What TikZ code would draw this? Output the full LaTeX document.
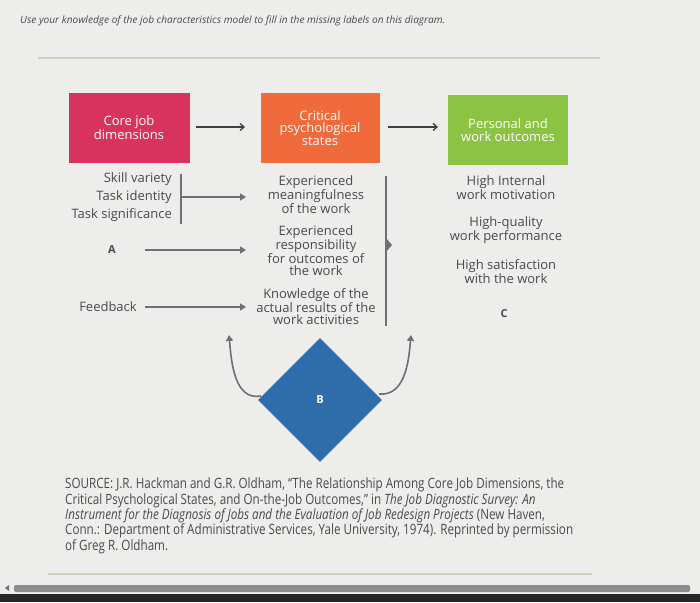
\documentclass[tikz,border=0pt]{standalone}
\usepackage{fontspec}
\setmainfont{Open Sans}
\newfontfamily\condf[FakeStretch=0.82]{Open Sans}
\usetikzlibrary{shapes.geometric,arrows.meta}
\definecolor{bg}{HTML}{EDEDEC}
\definecolor{txt}{HTML}{4A4A4A}
\definecolor{crim}{HTML}{D8335E}
\definecolor{orng}{HTML}{F06A3C}
\definecolor{grn}{HTML}{8CC342}
\definecolor{dblue}{HTML}{2F6DAA}
\definecolor{tan}{HTML}{D6CFB8}
\definecolor{arr}{HTML}{707070}
\tikzset{
 hbox/.style={minimum width=121pt,minimum height=70pt,text=white,align=center,font=\fontsize{13}{12.5}\selectfont,inner sep=0pt},
 lab/.style={text=txt,align=center,font=\fontsize{13}{12}\selectfont,inner sep=0pt},
 conn/.style={draw=arr,line width=1.6pt,-{Triangle[length=6pt,width=7pt]}},
 hconn/.style={draw=black!75,line width=1.3pt,-{Straight Barb[length=4pt,width=7pt]}},
}
\begin{document}
\begin{tikzpicture}[x=1pt,y=-1pt]
\fill[bg] (0,0) rectangle (700,602);
\useasboundingbox (0,0) rectangle (700,602);
\node[anchor=west,text=txt,font=\itshape\fontsize{10.1}{10}\selectfont,inner sep=0pt] (instr) at (20,21) {Use your knowledge of the job characteristics model to fill in the missing labels on this diagram.};
\draw[tan,line width=1.5pt] (38,58) coordinate (l1a) -- (600,58) coordinate (l1b);
\node[hbox,fill=crim] (core) at (129,128) {Core job\\dimensions};
\node[hbox,fill=orng,minimum width=119pt] (crit) at (320,128) {Critical\\psychological\\states};
\node[hbox,fill=grn,minimum width=120pt] (pers) at (508,130) {Personal and\\work outcomes};
\draw[hconn] (196,127) coordinate (a1) -- (245,127) coordinate (a2);
\draw[hconn] (388,127) coordinate (a3) -- (438,127) coordinate (a4);
\node[lab,anchor=east,align=right,font=\fontsize{13}{18}\selectfont] (skills) at (172,197) {Skill variety\\Task identity\\Task significance};
\node[lab] (mean) at (316,195) {Experienced\\meaningfulness\\of the work};
\node[lab] (resp) at (316,251) {Experienced\\responsibility\\for outcomes of\\the work};
\node[lab] (know) at (316,307) {Knowledge of the\\actual results of the\\work activities};
\node[lab,font=\bfseries\fontsize{11}{11}\selectfont] (A) at (112,250) {A};
\node[lab] (fb) at (108,307) {Feedback};
\draw[arr,line width=1.6pt] (181,174) coordinate (b1) -- (181,224) coordinate (b2);
\draw[conn] (181,197) coordinate (b3) -- (246,197) coordinate (b4);
\draw[conn] (145,250) coordinate (c1) -- (246,250) coordinate (c3);
\draw[conn] (145,307) coordinate (c2) -- (246,307) coordinate (c4);
\draw[arr,line width=1.6pt] (386,176) coordinate (v1) -- (386,326) coordinate (v2);
\fill[arr] (386,238) -- (392,245) -- (386,252) -- cycle;
\node[lab] (mot) at (506,188) {High Internal\\work motivation};
\node[lab] (perf) at (506,230) {High-quality\\work performance};
\node[lab] (sat) at (506,272) {High satisfaction\\with the work};
\node[lab,font=\bfseries\fontsize{11}{11}\selectfont] (C) at (504,314) {C};
\node[diamond,fill=dblue,minimum width=124pt,minimum height=124pt,inner sep=0pt,text=white,font=\bfseries\fontsize{11}{11}\selectfont] (B) at (320,400) {B};
\draw[conn] (B.west) ++(3,-4) coordinate (d1) to[out=190,in=-85] (229,335) coordinate (d2);
\draw[conn] (B.east) ++(-3,-6) coordinate (d3) to[out=-5,in=-95] (411,335) coordinate (d4);
\node[anchor=north west,align=left,text=txt,inner sep=0pt,font=\condf\fontsize{14.2}{12.8}\selectfont] (src) at (65,478) {SOURCE: J.R. Hackman and G.R. Oldham, “The Relationship Among Core Job Dimensions, the\\Critical Psychological States, and On-the-Job Outcomes,” in \emph{The Job Diagnostic Survey: An}\\\emph{Instrument for the Diagnosis of Jobs and the Evaluation of Job Redesign Projects} (New Haven,\\Conn.: Department of Administrative Services, Yale University, 1974). Reprinted by permission\\of Greg R. Oldham.};
\draw[tan,line width=1.5pt] (48,574) coordinate (l2a) -- (592,574) coordinate (l2b);
\fill[black!45,rounded corners=2pt] (14,585) rectangle (690,592);
\fill[black!55] (5,588) -- (9,585) -- (9,591) -- cycle;
\fill[black!85] (0,594) rectangle (700,602);
\end{tikzpicture}
\end{document}
